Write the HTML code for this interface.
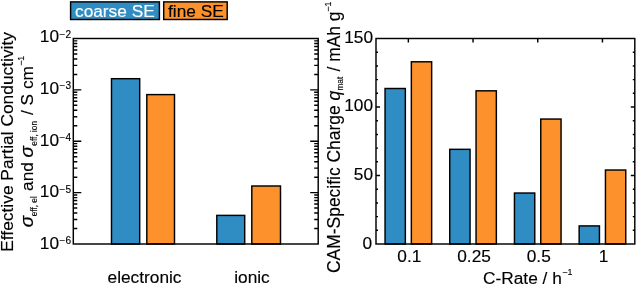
<!DOCTYPE html><html><head><meta charset="utf-8"><title>chart</title><style>html,body{margin:0;padding:0;background:#fff}svg{display:block}text{font-family:"Liberation Sans",sans-serif;fill:#000;stroke:#000;stroke-width:0.15px}</style></head><body>
<svg width="637" height="286" viewBox="0 0 637 286">
<rect width="637" height="286" fill="#fff"/>
<rect x="70.6" y="1.9" width="88.8" height="17.6" fill="#2f8dc3" stroke="#000" stroke-width="1.45"/>
<text x="75" y="17.2" font-size="17.3" style="fill:#fff;stroke:#fff">coarse SE</text>
<rect x="163.7" y="1.9" width="63.5" height="17.6" fill="#fd912b" stroke="#000" stroke-width="1.45"/>
<text x="168" y="17.2" font-size="17.3">fine SE</text>
<rect x="111.50" y="78.70" width="28.20" height="165.30" fill="#2f8dc3" stroke="#000" stroke-width="1.45"/>
<rect x="146.80" y="94.60" width="27.70" height="149.40" fill="#fd912b" stroke="#000" stroke-width="1.45"/>
<rect x="216.80" y="215.40" width="27.90" height="28.60" fill="#2f8dc3" stroke="#000" stroke-width="1.45"/>
<rect x="251.80" y="186.00" width="28.70" height="58.00" fill="#fd912b" stroke="#000" stroke-width="1.45"/>
<path d="M73.3 74.41h4M318.2 74.41h-4M73.3 65.36h4M318.2 65.36h-4M73.3 58.94h4M318.2 58.94h-4M73.3 53.97h4M318.2 53.97h-4M73.3 49.90h4M318.2 49.90h-4M73.3 46.46h4M318.2 46.46h-4M73.3 43.48h4M318.2 43.48h-4M73.3 40.85h4M318.2 40.85h-4M73.3 89.88h8M318.2 89.88h-8M73.3 125.78h4M318.2 125.78h-4M73.3 116.74h4M318.2 116.74h-4M73.3 110.32h4M318.2 110.32h-4M73.3 105.34h4M318.2 105.34h-4M73.3 101.27h4M318.2 101.27h-4M73.3 97.83h4M318.2 97.83h-4M73.3 94.85h4M318.2 94.85h-4M73.3 92.23h4M318.2 92.23h-4M73.3 141.25h8M318.2 141.25h-8M73.3 177.16h4M318.2 177.16h-4M73.3 168.11h4M318.2 168.11h-4M73.3 161.69h4M318.2 161.69h-4M73.3 156.72h4M318.2 156.72h-4M73.3 152.65h4M318.2 152.65h-4M73.3 149.21h4M318.2 149.21h-4M73.3 146.23h4M318.2 146.23h-4M73.3 143.60h4M318.2 143.60h-4M73.3 192.62h8M318.2 192.62h-8M73.3 228.53h4M318.2 228.53h-4M73.3 219.49h4M318.2 219.49h-4M73.3 213.07h4M318.2 213.07h-4M73.3 208.09h4M318.2 208.09h-4M73.3 204.02h4M318.2 204.02h-4M73.3 200.58h4M318.2 200.58h-4M73.3 197.60h4M318.2 197.60h-4M73.3 194.98h4M318.2 194.98h-4" stroke="#000" stroke-width="1.45" fill="none"/>
<rect x="73.3" y="38.5" width="244.90" height="205.50" fill="none" stroke="#000" stroke-width="1.45"/>
<text x="39.85" y="42.40" font-size="17.3">10<tspan font-size="10.1" dx="0.5" dy="-4.5">−2</tspan></text>
<text x="39.85" y="93.67" font-size="17.3">10<tspan font-size="10.1" dx="0.5" dy="-4.5">−3</tspan></text>
<text x="39.85" y="145.85" font-size="17.3">10<tspan font-size="10.1" dx="0.5" dy="-4.5">−4</tspan></text>
<text x="39.85" y="197.32" font-size="17.3">10<tspan font-size="10.1" dx="0.5" dy="-4.5">−5</tspan></text>
<text x="39.85" y="248.80" font-size="17.3">10<tspan font-size="10.1" dx="0.5" dy="-4.5">−6</tspan></text>
<text x="144.5" y="283.3" font-size="17.3" text-anchor="middle">electronic</text>
<text x="252" y="283.3" font-size="17.3" text-anchor="middle">ionic</text>
<text transform="translate(12.95 141.9) rotate(-90)" font-size="17.38" text-anchor="middle">Effective Partial Conductivity</text>
<text transform="translate(33.1 227.2) rotate(-90)" font-size="17.3"><tspan font-style="italic" font-size="19">σ</tspan><tspan font-size="8.3" dx="-0.6" dy="3.4">eff, el</tspan><tspan dx="0.4" dy="-3.4"> and</tspan><tspan font-style="italic" font-size="19" dx="4.6">σ</tspan><tspan font-size="8.3" dx="0.4" dy="3.4">eff, ion</tspan><tspan dx="1.1" dy="-3.4"> / S cm</tspan><tspan font-size="8.8" dx="0.2" dy="-9.3">−1</tspan></text>
<rect x="385.05" y="88.50" width="20.30" height="155.50" fill="#2f8dc3" stroke="#000" stroke-width="1.45"/>
<rect x="411.35" y="61.79" width="20.30" height="182.21" fill="#fd912b" stroke="#000" stroke-width="1.45"/>
<rect x="449.75" y="149.33" width="20.30" height="94.67" fill="#2f8dc3" stroke="#000" stroke-width="1.45"/>
<rect x="476.05" y="90.83" width="20.30" height="153.17" fill="#fd912b" stroke="#000" stroke-width="1.45"/>
<rect x="514.45" y="193.04" width="20.30" height="50.96" fill="#2f8dc3" stroke="#000" stroke-width="1.45"/>
<rect x="540.75" y="119.06" width="20.30" height="124.94" fill="#fd912b" stroke="#000" stroke-width="1.45"/>
<rect x="579.15" y="225.92" width="20.30" height="18.08" fill="#2f8dc3" stroke="#000" stroke-width="1.45"/>
<rect x="605.45" y="170.02" width="20.30" height="73.98" fill="#fd912b" stroke="#000" stroke-width="1.45"/>
<path d="M376.0 230.30h2M634.8 230.30h-2M376.0 216.60h2M634.8 216.60h-2M376.0 202.90h2M634.8 202.90h-2M376.0 189.20h2M634.8 189.20h-2M376.0 175.50h4M634.8 175.50h-4M376.0 161.80h2M634.8 161.80h-2M376.0 148.10h2M634.8 148.10h-2M376.0 134.40h2M634.8 134.40h-2M376.0 120.70h2M634.8 120.70h-2M376.0 107.00h4M634.8 107.00h-4M376.0 93.30h2M634.8 93.30h-2M376.0 79.60h2M634.8 79.60h-2M376.0 65.90h2M634.8 65.90h-2M376.0 52.20h2M634.8 52.20h-2M408.35 38.5v4M473.05 38.5v4M537.75 38.5v4M602.45 38.5v4" stroke="#000" stroke-width="1.45" fill="none"/>
<rect x="376.0" y="38.5" width="258.80" height="205.50" fill="none" stroke="#000" stroke-width="1.45"/>
<text x="372.0" y="248.80" font-size="17.3" text-anchor="end">0</text>
<text x="373" y="179.70" font-size="17.3" text-anchor="end">50</text>
<text x="373" y="111.20" font-size="17.3" text-anchor="end">100</text>
<text x="373" y="42.70" font-size="17.3" text-anchor="end">150</text>
<text x="409.35" y="262" font-size="17.3" text-anchor="middle">0.1</text>
<text x="474.05" y="262" font-size="17.3" text-anchor="middle">0.25</text>
<text x="538.75" y="262" font-size="17.3" text-anchor="middle">0.5</text>
<text x="603.45" y="262" font-size="17.3" text-anchor="middle">1</text>
<text x="483" y="283.9" font-size="17.3">C-Rate / h<tspan font-size="8.8" dx="0.5" dy="-8.6">−1</tspan></text>
<text transform="translate(340 137.3) rotate(-90)" font-size="17.45" text-anchor="middle">CAM-Specific Charge <tspan font-style="italic" dx="0">q</tspan><tspan font-size="8.3" dx="0.2" dy="3.4">mat</tspan><tspan dx="0.4" dy="-3.4"> / mAh g</tspan><tspan font-size="8.8" dx="-0.2" dy="-8.6">−1</tspan></text>
</svg></body></html>
